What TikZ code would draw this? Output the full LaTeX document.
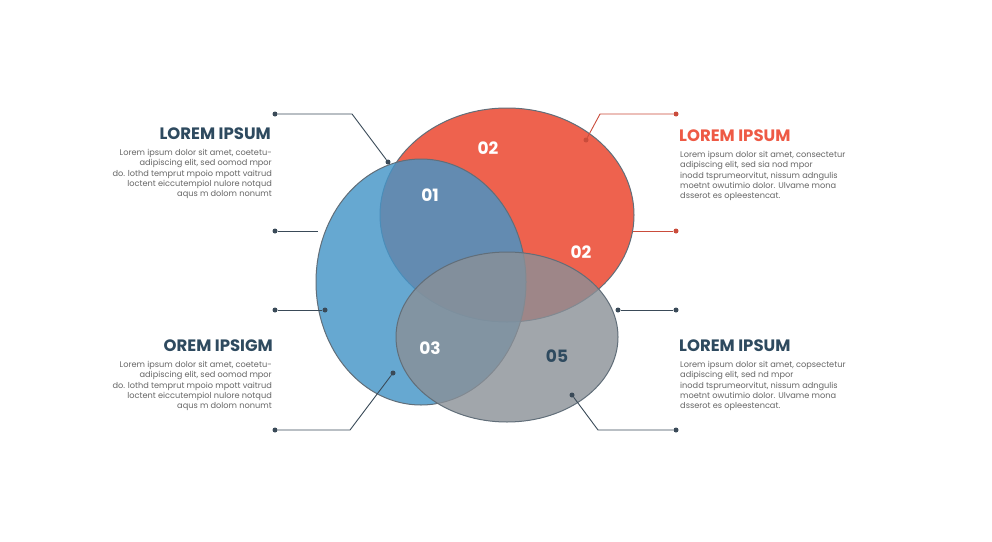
\documentclass[tikz,border=0pt]{standalone}
\usepackage{fontspec}
\setmainfont{Poppins}
\definecolor{cblue}{HTML}{4595C8}
\definecolor{cred}{HTML}{EE5A45}
\definecolor{cgray}{HTML}{8A9097}
\definecolor{cnavy}{HTML}{2E4A5F}
\definecolor{cline}{HTML}{3A4A58}
\begin{document}
\begin{tikzpicture}[x=1pt,y=-1pt,
  circ/.style={draw=cline!80,line width=1pt},
  lead/.style={cline,line width=0.9pt},
  redlead/.style={cred!85!black,line width=0.9pt},
  dotn/.style={circle,fill=cline,inner sep=0pt,minimum size=5pt},
  rdot/.style={circle,fill=cred!85!black,inner sep=0pt,minimum size=5pt},
  head/.style={font=\bfseries\fontsize{16.5}{18}\selectfont,inner sep=0pt},
  body/.style={font=\fontsize{8.2}{10.3}\selectfont,text=gray!80!black,inner sep=0pt},
  num/.style={font=\bfseries\fontsize{17}{18}\selectfont,text=white}]
\useasboundingbox[fill=white] (0,0) rectangle (992,541);
\fill[cred,circ,fill opacity=0.95] (507,215) ellipse [x radius=127,y radius=107];
\fill[cblue,circ,fill opacity=0.82] (421,282) ellipse [x radius=105,y radius=123];
\fill[cgray,circ,fill opacity=0.8] (507,337) ellipse [x radius=111,y radius=85];
\node[num] (n1) at (430,195) {01};
\node[num] (n2) at (488,148) {02};
\node[num] (n2b) at (581,252) {02};
\node[num] (n3) at (430,348) {03};
\node[num,text=cnavy] (n5) at (557,356) {05};
% left leaders
\node[dotn] (a1) at (275,114) {}; \node[dotn] (a2) at (388,162) {};
\coordinate (a1k) at (352,114);
\draw[lead] (a1)--(a1k)--(a2);
\node[dotn] (b1) at (275,231) {}; \coordinate (b2) at (318,231);
\draw[lead] (b1)--(b2);
\node[dotn] (c1) at (275,310) {}; \node[dotn] (c2) at (325,310) {};
\draw[lead] (c1)--(c2);
\node[dotn] (d1) at (275,430) {}; \node[dotn] (d2) at (393,373) {};
\coordinate (d1k) at (350,430);
\draw[lead] (d1)--(d1k)--(d2);
% right leaders
\node[rdot] (e1) at (676,114) {}; \node[rdot] (e2) at (586,140) {};
\coordinate (e1k) at (600,114);
\draw[redlead] (e1)--(e1k)--(e2);
\node[rdot] (f1) at (676,231) {}; \coordinate (f2) at (633,231);
\draw[redlead] (f1)--(f2);
\node[dotn] (g1) at (676,310) {}; \node[dotn] (g2) at (618,310) {};
\draw[lead] (g1)--(g2);
\node[dotn] (h1) at (676,430) {}; \node[dotn] (h2) at (572,395) {};
\coordinate (h1k) at (598,430);
\draw[lead] (h1)--(h1k)--(h2);
% texts
\node[head,text=cnavy,anchor=east] (t1) at (271,134) {LOREM IPSUM};
\node[body,anchor=north east,align=right] (p1) at (272,149) {Lorem ipsum dolor sit amet, coetetu-\\adipiscing elit, sed oomod mpor\\do. lothd temprut mpoio mpott vaitrud\\loctent eiccutempiol nulore notqud\\aqus m dolom nonumt};
\node[head,text=cnavy,anchor=east] (t2) at (273,346) {OREM IPSIGM};
\node[body,anchor=north east,align=right] (p2) at (272,361) {Lorem ipsum dolor sit amet, coetetu-\\adipiscing elit, sed oomod mpor\\do. lothd temprut mpoio mpott vaitrud\\loctent eiccutempiol nulore notqud\\aqus m dolom nonumt};
\node[head,text=cred,anchor=west] (t3) at (679,136) {LOREM IPSUM};
\node[body,anchor=north west,align=left] (p3) at (680,151) {Lorem ipsum dolor sit amet, consectetur\\adipiscing elit, sed sia nod mpor\\inodd tsprumeorvitut, nissum adngulis\\moetnt owutimio dolor. Ulvame mona\\dsserot es opleestencat.};
\node[head,text=cnavy,anchor=west] (t4) at (679,346) {LOREM IPSUM};
\node[body,anchor=north west,align=left] (p4) at (680,361) {Lorem ipsum dolor sit amet, copsectetur\\adipiscing elit, sed nd mpor\\inodd tsprumeorvitut, nissum adngulis\\moetnt owutimio dolor. Ulvame mona\\dsserot es opleestencat.};
\end{tikzpicture}
\end{document}
